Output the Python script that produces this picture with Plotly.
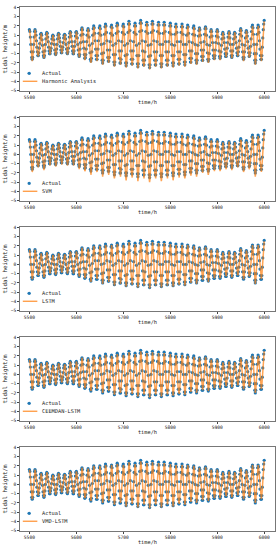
import plotly.graph_objects as go

# ---------------- data (hourly tidal heights, m) ----------------
start_hour = 5500
model_names = ["Harmonic Analysis", "SVM", "LSTM", "CEEMDAN-LSTM", "VMD-LSTM"]
x_tick_vals = [5500, 5600, 5700, 5800, 5900, 6000]
y_tick_vals = [4, 3, 2, 1, 0, -1, -2, -3, -4, -5]

actual = [
    1.6,1.4,0.8,0.0,-0.8,-1.4,-1.6,-1.4,-0.8,0.0,0.8,1.4,
    1.6,1.4,1.0,0.4,-0.3,-0.8,-1.2,-1.2,-0.9,-0.4,0.1,0.7,1.1,
    1.2,1.0,0.5,-0.1,-0.8,-1.2,-1.4,-1.2,-0.7,0.0,0.6,1.1,
    1.3,1.2,0.8,0.3,-0.3,-0.7,-1.0,-1.0,-0.7,-0.4,0.1,0.6,0.9,
    1.0,0.9,0.5,0.0,-0.6,-1.0,-1.1,-0.9,-0.5,0.0,0.6,1.0,
    1.2,1.1,0.7,0.3,-0.2,-0.6,-0.9,-0.9,-0.6,-0.3,0.2,0.7,1.0,
    1.1,1.0,0.6,0.0,-0.5,-0.9,-1.0,-0.8,-0.4,0.2,0.8,1.2,
    1.4,1.3,0.9,0.3,-0.2,-0.7,-1.0,-1.0,-0.7,-0.2,0.3,0.9,1.3,
    1.4,1.2,0.7,0.0,-0.6,-1.1,-1.3,-1.1,-0.5,0.2,1.0,1.6,
    1.8,1.6,1.1,0.3,-0.4,-1.1,-1.5,-1.4,-1.1,-0.5,0.3,1.0,1.5,
    1.7,1.5,0.8,-0.1,-0.9,-1.6,-1.8,-1.5,-0.8,0.1,1.0,1.7,
    2.0,1.8,1.2,0.4,-0.5,-1.2,-1.6,-1.6,-1.2,-0.5,0.4,1.2,1.8,
    2.0,1.7,1.0,0.0,-1.0,-1.7,-2.0,-1.7,-0.9,0.1,1.1,1.9,
    2.2,2.0,1.3,0.4,-0.6,-1.4,-1.8,-1.8,-1.4,-0.6,0.3,1.2,1.9,
    2.1,1.8,1.0,-0.1,-1.1,-1.9,-2.2,-1.9,-1.1,0.1,1.2,2.0,
    2.3,2.1,1.4,0.4,-0.7,-1.5,-2.0,-2.0,-1.6,-0.7,0.3,1.3,2.0,
    2.2,1.9,1.1,-0.1,-1.2,-2.0,-2.3,-2.0,-1.1,0.1,1.3,2.2,
    2.5,2.2,1.5,0.4,-0.7,-1.6,-2.1,-2.1,-1.6,-0.7,0.3,1.3,2.0,
    2.3,2.0,1.1,-0.1,-1.2,-2.1,-2.4,-2.1,-1.2,0.1,1.4,2.3,
    2.6,2.3,1.5,0.4,-0.7,-1.7,-2.2,-2.2,-1.7,-0.8,0.3,1.4,2.1,
    2.4,2.1,1.2,-0.1,-1.3,-2.2,-2.5,-2.2,-1.2,0.0,1.3,2.2,
    2.5,2.2,1.5,0.4,-0.8,-1.7,-2.2,-2.2,-1.7,-0.8,0.3,1.4,2.1,
    2.4,2.1,1.2,0.0,-1.2,-2.1,-2.4,-2.1,-1.2,0.0,1.2,2.1,
    2.4,2.1,1.4,0.3,-0.8,-1.7,-2.2,-2.2,-1.7,-0.8,0.3,1.3,2.0,
    2.3,2.0,1.1,0.0,-1.2,-2.0,-2.3,-2.0,-1.2,-0.1,1.1,1.9,
    2.2,1.9,1.3,0.3,-0.8,-1.6,-2.1,-2.1,-1.6,-0.8,0.3,1.3,1.9,
    2.2,1.9,1.1,0.0,-1.1,-1.9,-2.2,-1.9,-1.1,0.0,1.0,1.8,
    2.1,1.9,1.2,0.3,-0.7,-1.5,-1.9,-1.9,-1.5,-0.7,0.2,1.1,1.8,
    2.0,1.7,1.0,0.0,-1.0,-1.7,-2.0,-1.7,-1.0,-0.1,0.9,1.5,
    1.8,1.6,1.0,0.2,-0.6,-1.3,-1.7,-1.7,-1.3,-0.6,0.3,1.1,1.7,
    1.9,1.7,1.0,0.0,-0.9,-1.6,-1.8,-1.6,-1.0,-0.1,0.8,1.4,
    1.6,1.4,0.9,0.2,-0.6,-1.2,-1.5,-1.5,-1.2,-0.6,0.2,0.9,1.4,
    1.6,1.4,0.8,0.1,-0.7,-1.3,-1.5,-1.3,-0.8,-0.1,0.6,1.1,
    1.3,1.1,0.7,0.2,-0.5,-1.0,-1.3,-1.3,-1.0,-0.4,0.2,0.8,1.2,
    1.4,1.2,0.7,0.0,-0.7,-1.2,-1.4,-1.2,-0.7,0.0,0.6,1.1,
    1.3,1.2,0.8,0.2,-0.4,-0.9,-1.2,-1.2,-0.8,-0.3,0.4,1.1,1.5,
    1.7,1.5,0.9,0.0,-0.8,-1.4,-1.6,-1.4,-0.8,-0.1,0.7,1.3,
    1.5,1.3,0.9,0.3,-0.4,-0.9,-1.3,-1.2,-0.9,-0.2,0.6,1.4,1.9,
    2.1,1.8,1.1,0.0,-1.0,-1.7,-2.0,-1.7,-1.0,0.0,1.1,1.8,
    2.1,1.9,1.3,0.4,-0.5,-1.2,-1.6,-1.6,-1.2,-0.3,0.7,1.6,2.2,
    2.6,
]

harmonic = [
    1.6,1.4,0.8,0.0,-0.9,-1.5,-1.8,-1.5,-0.9,0.0,0.8,1.4,
    1.6,1.4,1.0,0.4,-0.3,-0.9,-1.3,-1.3,-1.0,-0.4,0.1,0.7,1.1,
    1.2,1.0,0.5,-0.1,-0.9,-1.3,-1.5,-1.3,-0.8,0.0,0.6,1.1,
    1.3,1.2,0.8,0.3,-0.3,-0.8,-1.1,-1.1,-0.8,-0.4,0.1,0.6,0.9,
    1.0,0.9,0.5,0.0,-0.7,-1.1,-1.2,-1.0,-0.6,0.0,0.6,1.0,
    1.2,1.1,0.7,0.3,-0.2,-0.7,-1.0,-1.0,-0.7,-0.3,0.2,0.7,1.0,
    1.1,1.0,0.6,0.0,-0.6,-1.0,-1.1,-0.9,-0.4,0.2,0.8,1.2,
    1.4,1.3,0.9,0.3,-0.2,-0.8,-1.1,-1.1,-0.8,-0.2,0.3,0.9,1.3,
    1.4,1.2,0.7,0.0,-0.7,-1.2,-1.4,-1.2,-0.6,0.2,1.0,1.6,
    1.8,1.6,1.1,0.3,-0.4,-1.2,-1.7,-1.5,-1.2,-0.6,0.3,1.0,1.5,
    1.7,1.5,0.8,-0.1,-1.0,-1.8,-2.0,-1.7,-0.9,0.1,1.0,1.7,
    1.9,1.8,1.2,0.4,-0.6,-1.3,-1.8,-1.8,-1.3,-0.6,0.4,1.2,1.8,
    1.9,1.7,1.0,0.0,-1.1,-1.9,-2.2,-1.9,-1.0,0.1,1.1,1.9,
    2.1,1.9,1.3,0.4,-0.7,-1.5,-2.0,-2.0,-1.5,-0.7,0.3,1.2,1.9,
    2.0,1.8,1.0,-0.1,-1.2,-2.1,-2.4,-2.1,-1.2,0.1,1.2,1.9,
    2.2,2.0,1.4,0.4,-0.8,-1.7,-2.2,-2.2,-1.8,-0.8,0.3,1.3,1.9,
    2.1,1.9,1.1,-0.1,-1.3,-2.2,-2.5,-2.2,-1.2,0.1,1.3,2.1,
    2.4,2.1,1.5,0.4,-0.8,-1.8,-2.3,-2.3,-1.8,-0.8,0.3,1.3,1.9,
    2.2,1.9,1.1,-0.1,-1.3,-2.3,-2.6,-2.3,-1.3,0.1,1.4,2.2,
    2.5,2.2,1.5,0.4,-0.8,-1.9,-2.4,-2.4,-1.9,-0.9,0.3,1.4,2.0,
    2.3,2.0,1.2,-0.1,-1.4,-2.4,-2.7,-2.4,-1.3,0.0,1.3,2.1,
    2.4,2.1,1.5,0.4,-0.9,-1.9,-2.4,-2.4,-1.9,-0.9,0.3,1.4,2.0,
    2.3,2.0,1.2,0.0,-1.3,-2.3,-2.6,-2.3,-1.3,0.0,1.2,2.0,
    2.3,2.0,1.4,0.3,-0.9,-1.9,-2.4,-2.4,-1.9,-0.9,0.3,1.3,1.9,
    2.2,1.9,1.1,0.0,-1.3,-2.2,-2.5,-2.2,-1.3,-0.1,1.1,1.9,
    2.1,1.9,1.3,0.3,-0.9,-1.8,-2.3,-2.3,-1.8,-0.9,0.3,1.3,1.9,
    2.1,1.9,1.1,0.0,-1.2,-2.1,-2.4,-2.1,-1.2,0.0,1.0,1.8,
    2.0,1.9,1.2,0.3,-0.8,-1.7,-2.1,-2.1,-1.7,-0.8,0.2,1.1,1.8,
    1.9,1.7,1.0,0.0,-1.1,-1.9,-2.2,-1.9,-1.1,-0.1,0.9,1.5,
    1.8,1.6,1.0,0.2,-0.7,-1.4,-1.9,-1.9,-1.4,-0.7,0.3,1.1,1.7,
    1.9,1.7,1.0,0.0,-1.0,-1.8,-2.0,-1.8,-1.1,-0.1,0.8,1.4,
    1.6,1.4,0.9,0.2,-0.7,-1.3,-1.7,-1.7,-1.3,-0.7,0.2,0.9,1.4,
    1.6,1.4,0.8,0.1,-0.8,-1.4,-1.7,-1.4,-0.9,-0.1,0.6,1.1,
    1.3,1.1,0.7,0.2,-0.6,-1.1,-1.4,-1.4,-1.1,-0.4,0.2,0.8,1.2,
    1.4,1.2,0.7,0.0,-0.8,-1.3,-1.5,-1.3,-0.8,0.0,0.6,1.1,
    1.3,1.2,0.8,0.2,-0.4,-1.0,-1.3,-1.3,-0.9,-0.3,0.4,1.1,1.5,
    1.7,1.5,0.9,0.0,-0.9,-1.5,-1.8,-1.5,-0.9,-0.1,0.7,1.3,
    1.5,1.3,0.9,0.3,-0.4,-1.0,-1.4,-1.3,-1.0,-0.2,0.6,1.4,1.9,
    2.0,1.8,1.1,0.0,-1.1,-1.9,-2.2,-1.9,-1.1,0.0,1.1,1.8,
    2.0,1.9,1.3,0.4,-0.6,-1.3,-1.8,-1.8,-1.3,-0.3,0.7,1.6,2.1,
    2.5,
]

svm = [
    1.5,1.4,0.8,0.0,-1.0,-1.7,-1.9,-1.7,-1.0,0.0,0.8,1.4,
    1.5,1.4,1.0,0.4,-0.4,-1.0,-1.4,-1.4,-1.1,-0.5,0.1,0.7,1.1,
    1.2,1.0,0.5,-0.1,-1.0,-1.4,-1.7,-1.4,-0.8,0.0,0.6,1.1,
    1.3,1.2,0.8,0.3,-0.4,-0.8,-1.2,-1.2,-0.8,-0.5,0.1,0.6,0.9,
    1.0,0.9,0.5,0.0,-0.7,-1.2,-1.3,-1.1,-0.6,0.0,0.6,1.0,
    1.2,1.1,0.7,0.3,-0.2,-0.7,-1.1,-1.1,-0.7,-0.4,0.2,0.7,1.0,
    1.1,1.0,0.6,0.0,-0.6,-1.1,-1.2,-1.0,-0.5,0.2,0.8,1.2,
    1.4,1.3,0.9,0.3,-0.2,-0.8,-1.2,-1.2,-0.8,-0.2,0.3,0.9,1.3,
    1.4,1.2,0.7,0.0,-0.7,-1.3,-1.6,-1.3,-0.6,0.2,1.0,1.5,
    1.7,1.5,1.1,0.3,-0.5,-1.3,-1.8,-1.7,-1.3,-0.6,0.3,1.0,1.4,
    1.6,1.4,0.8,-0.1,-1.1,-1.9,-2.2,-1.8,-1.0,0.1,1.0,1.6,
    1.9,1.7,1.2,0.4,-0.6,-1.4,-1.9,-1.9,-1.4,-0.6,0.4,1.2,1.7,
    1.9,1.6,1.0,0.0,-1.2,-2.0,-2.4,-2.0,-1.1,0.1,1.1,1.8,
    2.1,1.9,1.3,0.4,-0.7,-1.7,-2.2,-2.2,-1.7,-0.7,0.3,1.2,1.8,
    2.0,1.7,1.0,-0.1,-1.3,-2.3,-2.6,-2.3,-1.3,0.1,1.2,1.9,
    2.2,2.0,1.4,0.4,-0.8,-1.8,-2.4,-2.4,-1.9,-0.8,0.3,1.3,1.9,
    2.1,1.8,1.1,-0.1,-1.4,-2.4,-2.8,-2.4,-1.3,0.1,1.3,2.1,
    2.4,2.1,1.4,0.4,-0.8,-1.9,-2.5,-2.5,-1.9,-0.8,0.3,1.3,1.9,
    2.2,1.9,1.1,-0.1,-1.4,-2.5,-2.9,-2.5,-1.4,0.1,1.4,2.2,
    2.5,2.2,1.4,0.4,-0.8,-2.0,-2.6,-2.6,-2.0,-1.0,0.3,1.4,2.0,
    2.3,2.0,1.2,-0.1,-1.6,-2.6,-3.0,-2.6,-1.4,0.0,1.3,2.1,
    2.4,2.1,1.4,0.4,-1.0,-2.0,-2.6,-2.6,-2.0,-1.0,0.3,1.4,2.0,
    2.3,2.0,1.2,0.0,-1.4,-2.5,-2.9,-2.5,-1.4,0.0,1.2,2.0,
    2.3,2.0,1.4,0.3,-1.0,-2.0,-2.6,-2.6,-2.0,-1.0,0.3,1.3,1.9,
    2.2,1.9,1.1,0.0,-1.4,-2.4,-2.8,-2.4,-1.4,-0.1,1.1,1.8,
    2.1,1.8,1.3,0.3,-1.0,-1.9,-2.5,-2.5,-1.9,-1.0,0.3,1.3,1.8,
    2.1,1.8,1.1,0.0,-1.3,-2.3,-2.6,-2.3,-1.3,0.0,1.0,1.7,
    2.0,1.8,1.2,0.3,-0.8,-1.8,-2.3,-2.3,-1.8,-0.8,0.2,1.1,1.7,
    1.9,1.6,1.0,0.0,-1.2,-2.0,-2.4,-2.0,-1.2,-0.1,0.9,1.4,
    1.7,1.5,1.0,0.2,-0.7,-1.6,-2.0,-2.0,-1.6,-0.7,0.3,1.1,1.6,
    1.8,1.6,1.0,0.0,-1.1,-1.9,-2.2,-1.9,-1.2,-0.1,0.8,1.4,
    1.5,1.4,0.9,0.2,-0.7,-1.4,-1.8,-1.8,-1.4,-0.7,0.2,0.9,1.4,
    1.5,1.4,0.8,0.1,-0.8,-1.6,-1.8,-1.6,-1.0,-0.1,0.6,1.1,
    1.3,1.1,0.7,0.2,-0.6,-1.2,-1.6,-1.6,-1.2,-0.5,0.2,0.8,1.2,
    1.4,1.2,0.7,0.0,-0.8,-1.4,-1.7,-1.4,-0.8,0.0,0.6,1.1,
    1.3,1.2,0.8,0.2,-0.5,-1.1,-1.4,-1.4,-1.0,-0.4,0.4,1.1,1.4,
    1.6,1.4,0.9,0.0,-1.0,-1.7,-1.9,-1.7,-1.0,-0.1,0.7,1.3,
    1.4,1.3,0.9,0.3,-0.5,-1.1,-1.6,-1.4,-1.1,-0.2,0.6,1.4,1.8,
    2.0,1.7,1.1,0.0,-1.2,-2.0,-2.4,-2.0,-1.2,0.0,1.1,1.7,
    2.0,1.8,1.3,0.4,-0.6,-1.4,-1.9,-1.9,-1.4,-0.4,0.7,1.5,2.1,
    2.5,
]

lstm = [
    1.6,1.4,0.8,0.0,-0.8,-1.4,-1.6,-1.4,-0.8,0.0,0.8,1.4,
    1.6,1.4,1.0,0.4,-0.3,-0.8,-1.2,-1.2,-0.9,-0.4,0.1,0.7,1.1,
    1.2,1.0,0.5,-0.1,-0.8,-1.2,-1.4,-1.2,-0.7,0.0,0.6,1.1,
    1.3,1.2,0.8,0.3,-0.3,-0.7,-1.0,-1.0,-0.7,-0.4,0.1,0.6,0.9,
    1.0,0.9,0.5,0.0,-0.6,-1.0,-1.1,-0.9,-0.5,0.0,0.6,1.0,
    1.2,1.1,0.7,0.3,-0.2,-0.6,-0.9,-0.9,-0.6,-0.3,0.2,0.7,1.0,
    1.1,1.0,0.6,0.0,-0.5,-0.9,-1.0,-0.8,-0.4,0.2,0.8,1.2,
    1.4,1.3,0.9,0.3,-0.2,-0.7,-1.0,-1.0,-0.7,-0.2,0.3,0.9,1.3,
    1.4,1.2,0.7,0.0,-0.6,-1.1,-1.3,-1.1,-0.5,0.2,1.0,1.6,
    1.8,1.6,1.1,0.3,-0.4,-1.1,-1.5,-1.4,-1.1,-0.5,0.3,1.0,1.5,
    1.7,1.5,0.8,-0.1,-0.9,-1.6,-1.9,-1.5,-0.8,0.1,1.0,1.7,
    2.0,1.8,1.2,0.4,-0.5,-1.2,-1.6,-1.6,-1.2,-0.5,0.4,1.2,1.8,
    2.0,1.7,1.0,0.0,-1.0,-1.7,-2.1,-1.7,-0.9,0.1,1.1,1.9,
    2.1,2.0,1.3,0.4,-0.6,-1.4,-1.9,-1.9,-1.4,-0.6,0.3,1.2,1.9,
    2.1,1.8,1.0,-0.1,-1.1,-2.0,-2.3,-2.0,-1.1,0.1,1.2,2.0,
    2.2,2.1,1.4,0.4,-0.7,-1.5,-2.1,-2.1,-1.6,-0.7,0.3,1.3,2.0,
    2.1,1.9,1.1,-0.1,-1.2,-2.1,-2.4,-2.1,-1.1,0.1,1.3,2.1,
    2.4,2.1,1.5,0.4,-0.7,-1.6,-2.2,-2.2,-1.6,-0.7,0.3,1.3,2.0,
    2.2,2.0,1.1,-0.1,-1.2,-2.2,-2.5,-2.2,-1.2,0.1,1.4,2.2,
    2.5,2.2,1.5,0.4,-0.7,-1.7,-2.3,-2.3,-1.7,-0.8,0.3,1.4,2.1,
    2.3,2.1,1.2,-0.1,-1.3,-2.3,-2.6,-2.3,-1.2,0.0,1.3,2.1,
    2.4,2.1,1.5,0.4,-0.8,-1.7,-2.3,-2.3,-1.7,-0.8,0.3,1.4,2.1,
    2.3,2.1,1.2,0.0,-1.2,-2.2,-2.5,-2.2,-1.2,0.0,1.2,2.1,
    2.3,2.1,1.4,0.3,-0.8,-1.7,-2.3,-2.3,-1.7,-0.8,0.3,1.3,2.0,
    2.2,2.0,1.1,0.0,-1.2,-2.1,-2.4,-2.1,-1.2,-0.1,1.1,1.9,
    2.1,1.9,1.3,0.3,-0.8,-1.6,-2.2,-2.2,-1.6,-0.8,0.3,1.3,1.9,
    2.1,1.9,1.1,0.0,-1.1,-2.0,-2.3,-2.0,-1.1,0.0,1.0,1.8,
    2.1,1.9,1.2,0.3,-0.7,-1.5,-2.0,-2.0,-1.5,-0.7,0.2,1.1,1.8,
    2.0,1.7,1.0,0.0,-1.0,-1.7,-2.1,-1.7,-1.0,-0.1,0.9,1.5,
    1.8,1.6,1.0,0.2,-0.6,-1.3,-1.7,-1.7,-1.3,-0.6,0.3,1.1,1.7,
    1.9,1.7,1.0,0.0,-0.9,-1.6,-1.9,-1.6,-1.0,-0.1,0.8,1.4,
    1.6,1.4,0.9,0.2,-0.6,-1.2,-1.5,-1.5,-1.2,-0.6,0.2,0.9,1.4,
    1.6,1.4,0.8,0.1,-0.7,-1.3,-1.5,-1.3,-0.8,-0.1,0.6,1.1,
    1.3,1.1,0.7,0.2,-0.5,-1.0,-1.3,-1.3,-1.0,-0.4,0.2,0.8,1.2,
    1.4,1.2,0.7,0.0,-0.7,-1.2,-1.4,-1.2,-0.7,0.0,0.6,1.1,
    1.3,1.2,0.8,0.2,-0.4,-0.9,-1.2,-1.2,-0.8,-0.3,0.4,1.1,1.5,
    1.7,1.5,0.9,0.0,-0.8,-1.4,-1.6,-1.4,-0.8,-0.1,0.7,1.3,
    1.5,1.3,0.9,0.3,-0.4,-0.9,-1.3,-1.2,-0.9,-0.2,0.6,1.4,1.9,
    2.1,1.8,1.1,0.0,-1.0,-1.7,-2.1,-1.7,-1.0,0.0,1.1,1.8,
    2.1,1.9,1.3,0.4,-0.5,-1.2,-1.6,-1.6,-1.2,-0.3,0.7,1.6,2.1,
    2.5,
]

ceemdan = [
    1.6,1.4,0.8,0.0,-0.8,-1.4,-1.6,-1.4,-0.8,0.0,0.8,1.4,
    1.6,1.4,1.0,0.4,-0.3,-0.8,-1.2,-1.2,-0.9,-0.4,0.1,0.7,1.1,
    1.2,1.0,0.5,-0.1,-0.8,-1.2,-1.4,-1.2,-0.7,0.0,0.6,1.1,
    1.3,1.2,0.8,0.3,-0.3,-0.7,-1.0,-1.0,-0.7,-0.4,0.1,0.6,0.9,
    1.0,0.9,0.5,0.0,-0.6,-1.0,-1.1,-0.9,-0.5,0.0,0.6,1.0,
    1.2,1.1,0.7,0.3,-0.2,-0.6,-0.9,-0.9,-0.6,-0.3,0.2,0.7,1.0,
    1.1,1.0,0.6,0.0,-0.5,-0.9,-1.0,-0.8,-0.4,0.2,0.8,1.2,
    1.4,1.3,0.9,0.3,-0.2,-0.7,-1.0,-1.0,-0.7,-0.2,0.3,0.9,1.3,
    1.4,1.2,0.7,0.0,-0.6,-1.1,-1.3,-1.1,-0.5,0.2,1.0,1.6,
    1.8,1.6,1.1,0.3,-0.4,-1.1,-1.5,-1.4,-1.1,-0.5,0.3,1.0,1.5,
    1.7,1.5,0.8,-0.1,-0.9,-1.6,-1.8,-1.5,-0.8,0.1,1.0,1.7,
    1.9,1.8,1.2,0.4,-0.5,-1.2,-1.6,-1.6,-1.2,-0.5,0.4,1.2,1.8,
    1.9,1.7,1.0,0.0,-1.0,-1.7,-2.0,-1.7,-0.9,0.1,1.1,1.9,
    2.1,1.9,1.3,0.4,-0.6,-1.4,-1.8,-1.8,-1.4,-0.6,0.3,1.2,1.9,
    2.0,1.8,1.0,-0.1,-1.1,-1.9,-2.2,-1.9,-1.1,0.1,1.2,1.9,
    2.2,2.0,1.4,0.4,-0.7,-1.5,-2.0,-2.0,-1.6,-0.7,0.3,1.3,1.9,
    2.1,1.9,1.1,-0.1,-1.2,-2.0,-2.3,-2.0,-1.1,0.1,1.3,2.1,
    2.4,2.1,1.5,0.4,-0.7,-1.6,-2.1,-2.1,-1.6,-0.7,0.3,1.3,1.9,
    2.2,1.9,1.1,-0.1,-1.2,-2.1,-2.4,-2.1,-1.2,0.1,1.4,2.2,
    2.5,2.2,1.5,0.4,-0.7,-1.7,-2.2,-2.2,-1.7,-0.8,0.3,1.4,2.0,
    2.3,2.0,1.2,-0.1,-1.3,-2.2,-2.5,-2.2,-1.2,0.0,1.3,2.1,
    2.4,2.1,1.5,0.4,-0.8,-1.7,-2.2,-2.2,-1.7,-0.8,0.3,1.4,2.0,
    2.3,2.0,1.2,0.0,-1.2,-2.1,-2.4,-2.1,-1.2,0.0,1.2,2.0,
    2.3,2.0,1.4,0.3,-0.8,-1.7,-2.2,-2.2,-1.7,-0.8,0.3,1.3,1.9,
    2.2,1.9,1.1,0.0,-1.2,-2.0,-2.3,-2.0,-1.2,-0.1,1.1,1.9,
    2.1,1.9,1.3,0.3,-0.8,-1.6,-2.1,-2.1,-1.6,-0.8,0.3,1.3,1.9,
    2.1,1.9,1.1,0.0,-1.1,-1.9,-2.2,-1.9,-1.1,0.0,1.0,1.8,
    2.0,1.9,1.2,0.3,-0.7,-1.5,-1.9,-1.9,-1.5,-0.7,0.2,1.1,1.8,
    1.9,1.7,1.0,0.0,-1.0,-1.7,-2.0,-1.7,-1.0,-0.1,0.9,1.5,
    1.8,1.6,1.0,0.2,-0.6,-1.3,-1.7,-1.7,-1.3,-0.6,0.3,1.1,1.7,
    1.9,1.7,1.0,0.0,-0.9,-1.6,-1.8,-1.6,-1.0,-0.1,0.8,1.4,
    1.6,1.4,0.9,0.2,-0.6,-1.2,-1.5,-1.5,-1.2,-0.6,0.2,0.9,1.4,
    1.6,1.4,0.8,0.1,-0.7,-1.3,-1.5,-1.3,-0.8,-0.1,0.6,1.1,
    1.3,1.1,0.7,0.2,-0.5,-1.0,-1.3,-1.3,-1.0,-0.4,0.2,0.8,1.2,
    1.4,1.2,0.7,0.0,-0.7,-1.2,-1.4,-1.2,-0.7,0.0,0.6,1.1,
    1.3,1.2,0.8,0.2,-0.4,-0.9,-1.2,-1.2,-0.8,-0.3,0.4,1.1,1.5,
    1.7,1.5,0.9,0.0,-0.8,-1.4,-1.6,-1.4,-0.8,-0.1,0.7,1.3,
    1.5,1.3,0.9,0.3,-0.4,-0.9,-1.3,-1.2,-0.9,-0.2,0.6,1.4,1.9,
    2.0,1.8,1.1,0.0,-1.0,-1.7,-2.0,-1.7,-1.0,0.0,1.1,1.8,
    2.0,1.9,1.3,0.4,-0.5,-1.2,-1.6,-1.6,-1.2,-0.3,0.7,1.6,2.1,
    2.5,
]

vmd = [
    1.6,1.4,0.8,0.0,-0.8,-1.4,-1.6,-1.4,-0.8,0.0,0.8,1.4,
    1.6,1.4,1.0,0.4,-0.3,-0.8,-1.2,-1.2,-0.9,-0.4,0.1,0.7,1.1,
    1.2,1.0,0.5,-0.1,-0.8,-1.2,-1.4,-1.2,-0.7,0.0,0.6,1.1,
    1.3,1.2,0.8,0.3,-0.3,-0.7,-1.0,-1.0,-0.7,-0.4,0.1,0.6,0.9,
    1.0,0.9,0.5,0.0,-0.6,-1.0,-1.1,-0.9,-0.5,0.0,0.6,1.0,
    1.2,1.1,0.7,0.3,-0.2,-0.6,-0.9,-0.9,-0.6,-0.3,0.2,0.7,1.0,
    1.1,1.0,0.6,0.0,-0.5,-0.9,-1.0,-0.8,-0.4,0.2,0.8,1.2,
    1.4,1.3,0.9,0.3,-0.2,-0.7,-1.0,-1.0,-0.7,-0.2,0.3,0.9,1.3,
    1.4,1.2,0.7,0.0,-0.6,-1.1,-1.3,-1.1,-0.5,0.2,1.0,1.6,
    1.8,1.6,1.1,0.3,-0.4,-1.1,-1.5,-1.4,-1.1,-0.5,0.3,1.0,1.5,
    1.7,1.5,0.8,-0.1,-0.9,-1.6,-1.8,-1.5,-0.8,0.1,1.0,1.7,
    2.0,1.8,1.2,0.4,-0.5,-1.2,-1.6,-1.6,-1.2,-0.5,0.4,1.2,1.8,
    2.0,1.7,1.0,0.0,-1.0,-1.7,-2.0,-1.7,-0.9,0.1,1.1,1.9,
    2.1,2.0,1.3,0.4,-0.6,-1.4,-1.8,-1.8,-1.4,-0.6,0.3,1.2,1.9,
    2.1,1.8,1.0,-0.1,-1.1,-1.9,-2.2,-1.9,-1.1,0.1,1.2,2.0,
    2.2,2.1,1.4,0.4,-0.7,-1.5,-2.0,-2.0,-1.6,-0.7,0.3,1.3,2.0,
    2.1,1.9,1.1,-0.1,-1.2,-2.0,-2.4,-2.0,-1.1,0.1,1.3,2.1,
    2.4,2.1,1.5,0.4,-0.7,-1.6,-2.1,-2.1,-1.6,-0.7,0.3,1.3,2.0,
    2.2,2.0,1.1,-0.1,-1.2,-2.1,-2.5,-2.1,-1.2,0.1,1.4,2.2,
    2.5,2.2,1.5,0.4,-0.7,-1.7,-2.2,-2.2,-1.7,-0.8,0.3,1.4,2.1,
    2.3,2.1,1.2,-0.1,-1.3,-2.2,-2.6,-2.2,-1.2,0.0,1.3,2.1,
    2.4,2.1,1.5,0.4,-0.8,-1.7,-2.2,-2.2,-1.7,-0.8,0.3,1.4,2.1,
    2.3,2.1,1.2,0.0,-1.2,-2.1,-2.5,-2.1,-1.2,0.0,1.2,2.1,
    2.3,2.1,1.4,0.3,-0.8,-1.7,-2.2,-2.2,-1.7,-0.8,0.3,1.3,2.0,
    2.2,2.0,1.1,0.0,-1.2,-2.0,-2.4,-2.0,-1.2,-0.1,1.1,1.9,
    2.1,1.9,1.3,0.3,-0.8,-1.6,-2.1,-2.1,-1.6,-0.8,0.3,1.3,1.9,
    2.1,1.9,1.1,0.0,-1.1,-1.9,-2.2,-1.9,-1.1,0.0,1.0,1.8,
    2.1,1.9,1.2,0.3,-0.7,-1.5,-1.9,-1.9,-1.5,-0.7,0.2,1.1,1.8,
    2.0,1.7,1.0,0.0,-1.0,-1.7,-2.0,-1.7,-1.0,-0.1,0.9,1.5,
    1.8,1.6,1.0,0.2,-0.6,-1.3,-1.7,-1.7,-1.3,-0.6,0.3,1.1,1.7,
    1.9,1.7,1.0,0.0,-0.9,-1.6,-1.8,-1.6,-1.0,-0.1,0.8,1.4,
    1.6,1.4,0.9,0.2,-0.6,-1.2,-1.5,-1.5,-1.2,-0.6,0.2,0.9,1.4,
    1.6,1.4,0.8,0.1,-0.7,-1.3,-1.5,-1.3,-0.8,-0.1,0.6,1.1,
    1.3,1.1,0.7,0.2,-0.5,-1.0,-1.3,-1.3,-1.0,-0.4,0.2,0.8,1.2,
    1.4,1.2,0.7,0.0,-0.7,-1.2,-1.4,-1.2,-0.7,0.0,0.6,1.1,
    1.3,1.2,0.8,0.2,-0.4,-0.9,-1.2,-1.2,-0.8,-0.3,0.4,1.1,1.5,
    1.7,1.5,0.9,0.0,-0.8,-1.4,-1.6,-1.4,-0.8,-0.1,0.7,1.3,
    1.5,1.3,0.9,0.3,-0.4,-0.9,-1.3,-1.2,-0.9,-0.2,0.6,1.4,1.9,
    2.1,1.8,1.1,0.0,-1.0,-1.7,-2.0,-1.7,-1.0,0.0,1.1,1.8,
    2.1,1.9,1.3,0.4,-0.5,-1.2,-1.6,-1.6,-1.2,-0.3,0.7,1.6,2.1,
    2.5,
]

predictions = [harmonic, svm, lstm, ceemdan, vmd]

# ---------------- layout constants ----------------
W, H = 279, 550
plot_left, plot_right = 20, 275
panel_tops = [5.5, 116.5, 227.5, 338.5, 449.5]
panel_h = 84
BLUE = "#1f77b4"
ORANGE = "#ff7f0e"
FONT = "DejaVu Sans Mono"
TXT = "#222222"

fig = go.Figure()
hours = list(range(start_hour, start_hour + len(actual)))

layout = dict(
    width=W, height=H,
    autosize=False,
    margin=dict(l=0, r=0, t=0, b=0, pad=0),
    paper_bgcolor="white", plot_bgcolor="white",
    showlegend=False,
    font=dict(family=FONT, color=TXT),
)
shapes, annotations = [], []

for i, (name, pred) in enumerate(zip(model_names, predictions)):
    n = "" if i == 0 else str(i + 1)
    xa, ya = "x" + n, "y" + n
    fig.add_trace(go.Scatter(
        x=hours, y=actual, mode="markers", name="Actual",
        marker=dict(color=BLUE, size=3.2, line=dict(width=0)),
        xaxis=xa, yaxis=ya, hoverinfo="skip"))
    fig.add_trace(go.Scatter(
        x=list(range(start_hour, start_hour + len(pred))), y=pred,
        mode="lines", name=name,
        line=dict(color=ORANGE, width=1.5),
        opacity=0.7,
        xaxis=xa, yaxis=ya, hoverinfo="skip"))

    top = panel_tops[i]
    bottom = top + panel_h
    layout["xaxis" + n] = dict(
        domain=[plot_left / W, plot_right / W], anchor=ya,
        range=[5480, 6023], tickvals=x_tick_vals,
        ticks="outside", ticklen=2, tickwidth=0.6, tickcolor="#444",
        tickfont=dict(family=FONT, size=4.6, color=TXT),
        showline=True, mirror=True, linecolor="#777", linewidth=0.7,
        showgrid=False, zeroline=False,
        title=dict(text="time/h", font=dict(family=FONT, size=5.3, color=TXT), standoff=1),
    )
    layout["yaxis" + n] = dict(
        domain=[1 - bottom / H, 1 - top / H], anchor=xa,
        range=[-5, 4], tickvals=y_tick_vals,
        ticks="outside", ticklen=2, tickwidth=0.6, tickcolor="#444",
        tickfont=dict(family=FONT, size=4.6, color=TXT),
        showline=True, mirror=True, linecolor="#777", linewidth=0.7,
        showgrid=False, zeroline=False,
        title=dict(text="tidal height/m", font=dict(family=FONT, size=5.8, color=TXT), standoff=2),
    )

    # legend (lower left, inside the axes)
    xd, yd = xa + " domain", ya + " domain"
    rx, ry = 1.7 / (plot_right - plot_left), 1.7 / panel_h
    cx, cy = 0.036, 0.208
    shapes.append(dict(type="circle", xref=xd, yref=yd,
                       x0=cx - rx, x1=cx + rx, y0=cy - ry, y1=cy + ry,
                       fillcolor=BLUE, line=dict(width=0)))
    shapes.append(dict(type="line", xref=xd, yref=yd,
                       x0=0.011, x1=0.068, y0=0.113, y1=0.113,
                       line=dict(color=ORANGE, width=1.3), opacity=0.8))
    annotations.append(dict(text="Actual", xref=xd, yref=yd, x=0.078, y=cy,
                            xanchor="left", yanchor="middle", showarrow=False,
                            font=dict(family=FONT, size=5.3, color=TXT)))
    annotations.append(dict(text=name, xref=xd, yref=yd, x=0.078, y=0.113,
                            xanchor="left", yanchor="middle", showarrow=False,
                            font=dict(family=FONT, size=5.3, color=TXT)))

layout["shapes"] = shapes
layout["annotations"] = annotations
fig.update_layout(**layout)
fig.write_html(
    "out.html",
    config={"displayModeBar": False},
    post_script="document.body.style.margin='0';document.body.style.overflow='hidden';",
)
